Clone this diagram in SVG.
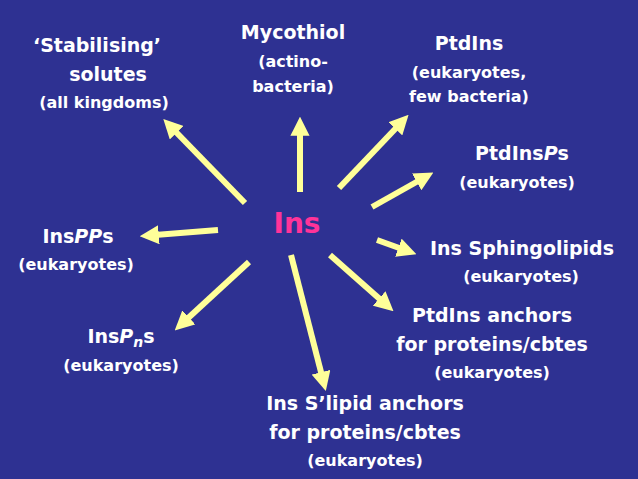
<svg xmlns="http://www.w3.org/2000/svg" width="638" height="479" viewBox="0 0 638 479">
<defs>
<style>
text{font-family:"DejaVu Sans","Liberation Sans",sans-serif;fill:#fff;text-anchor:middle}
.b{font-size:19px;font-weight:bold}
.s{font-size:16px;font-weight:bold}
.c line{stroke:#FFFF99;stroke-width:6;marker-end:url(#ah)}
</style>
<marker id="ah" viewBox="0 0 10 10" refX="2" refY="5" markerWidth="3.2" markerHeight="3.2" orient="auto" markerUnits="strokeWidth">
<path d="M0,0L10,5L0,10z" fill="#FFFF99"/>
</marker>
</defs>
<rect width="638" height="479" fill="#2E3192"/>
<g class="c" id="connectors">
<line x1="245" y1="203" x2="174" y2="130"/>
<line x1="300" y1="192" x2="300" y2="132"/>
<line x1="339" y1="188" x2="398" y2="126"/>
<line x1="372" y1="207" x2="420" y2="180"/>
<line x1="218" y1="230" x2="155" y2="235"/>
<line x1="377" y1="240" x2="402" y2="249"/>
<line x1="249" y1="262" x2="186" y2="320"/>
<line x1="291" y1="255" x2="322" y2="376"/>
<line x1="330" y1="255" x2="382" y2="301"/>
</g>
<g id="ins"><text x="297" y="233" style="font-size:28px;font-weight:bold;fill:#FF3399">Ins</text></g>
<g id="stab"><text x="97" y="52" class="b">‘Stabilising’</text><text x="108" y="81" class="b">solutes</text><text x="104" y="108" class="s">(all kingdoms)</text></g>
<g id="myco"><text x="293" y="39" class="b">Mycothiol</text><text x="293" y="67" class="s">(actino-</text><text x="293" y="92" class="s">bacteria)</text></g>
<g id="ptdins"><text x="469" y="50" class="b">PtdIns</text><text x="469" y="78" class="s">(eukaryotes,</text><text x="469" y="102" class="s">few bacteria)</text></g>
<g id="ptdinsps"><text x="522" y="160" class="b">PtdIns<tspan font-style="italic">P</tspan>s</text><text x="517" y="188" class="s">(eukaryotes)</text></g>
<g id="sphingo"><text x="522" y="255" class="b">Ins Sphingolipids</text><text x="521" y="282" class="s">(eukaryotes)</text></g>
<g id="anchors"><text x="492" y="322" class="b">PtdIns anchors</text><text x="492" y="351" class="b">for proteins/cbtes</text><text x="492" y="378" class="s">(eukaryotes)</text></g>
<g id="slipid"><text x="365" y="410" class="b">Ins S’lipid anchors</text><text x="365" y="439" class="b">for proteins/cbtes</text><text x="365" y="466" class="s">(eukaryotes)</text></g>
<g id="inspps"><text x="78" y="243" class="b">Ins<tspan font-style="italic">PP</tspan>s</text><text x="76" y="270" class="s">(eukaryotes)</text></g>
<g id="inspns"><text x="121" y="343" class="b">Ins<tspan font-style="italic">P</tspan><tspan font-style="italic" font-size="14" dy="4">n</tspan><tspan dy="-4">s</tspan></text><text x="121" y="371" class="s">(eukaryotes)</text></g>
</svg>
